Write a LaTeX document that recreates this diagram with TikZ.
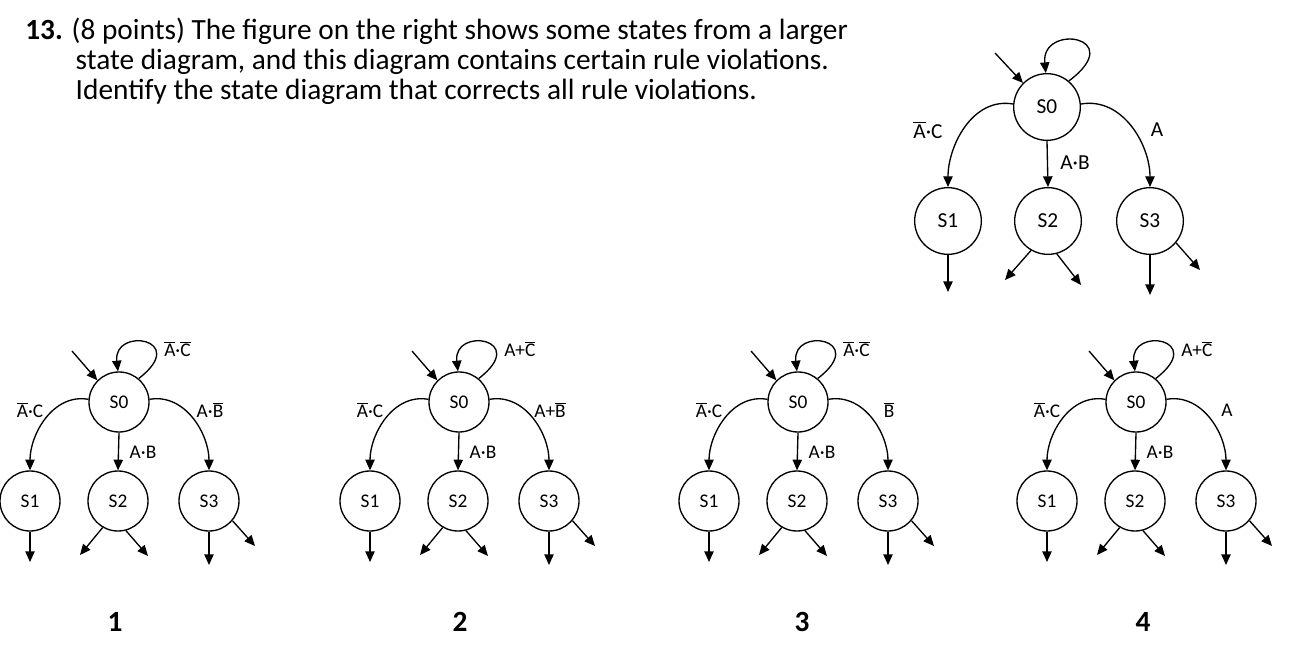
\documentclass[tikz,border=0pt]{standalone}
\usepackage{fontspec}
\setmainfont{Carlito}
\usetikzlibrary{arrows.meta}
\newcommand{\ov}[1]{$\overline{\mbox{#1}}$}
\begin{document}
\begin{tikzpicture}[x=0.75pt,y=-0.75pt,
  st/.style={draw,circle,line width=1pt,minimum size=45pt,inner sep=0pt,font=\fontsize{14.5}{14.5}\selectfont},
  bst/.style={draw,circle,line width=1pt,minimum size=50pt,inner sep=0pt,font=\fontsize{16}{16}\selectfont},
  ar/.style={line width=1pt,-{Triangle[length=8pt,width=7pt]}},
  lb/.style={font=\fontsize{14.5}{14.5}\selectfont,inner sep=0pt},
  blb/.style={font=\fontsize{16}{16}\selectfont,inner sep=0pt}]
\useasboundingbox (0,0) rectangle (1296,656);
\node[anchor=north west,align=left,inner sep=0pt,font=\fontsize{22}{22.5}\selectfont] (q) at (25,18)
 {\textbf{13.} (8 points) The figure on the right shows some states from a larger\\
 \hspace*{1.72em}state diagram, and this diagram contains certain rule violations.\\
 \hspace*{1.72em}Identify the state diagram that corrects all rule violations.};
% top diagram
\node[bst] (t0) at (1047,107) {S0};
\node[bst] (t1) at (948,221) {S1};
\node[bst] (t2) at (1048,221) {S2};
\node[bst] (t3) at (1150,221) {S3};
\coordinate (ti) at (995,53);
\draw[ar] (ti) -- (t0.135);
\draw[ar] (t0.50) .. controls +(60,-45) and +(-5,-50) .. (t0.92);
\draw[ar] (t0.175) to[out=170,in=90] (t1.north);
\draw[ar] (t0.south) -- (t2.north);
\draw[ar] (t0.5) to[out=10,in=90] (t3.north);
\node[blb] (tl1) at (928,130) {\ov{A}·C};
\node[blb] (tl2) at (1075,163) {A·B};
\node[blb] (tl3) at (1157,130) {A};
\coordinate (to1) at (948,292);
\coordinate (to2) at (1005,280);
\coordinate (to3) at (1081,285);
\coordinate (to4) at (1150,295);
\coordinate (to5) at (1200,270);
\draw[ar] (t1.south) -- (to1);
\draw[ar] (t2.240) -- (to2);
\draw[ar] (t2.285) -- (to3);
\draw[ar] (t3.south) -- (to4);
\draw[ar] (t3.320) -- (to5);
% small diagrams
\foreach \i/\dx/\ll/\sl/\nx in {1/0/{\ov{A}·\ov{C}}/{A·\ov{B}}/115, 2/340/{A+\ov{C}}/{A+\ov{B}}/120, 3/679/{\ov{A}·\ov{C}}/{\ov{B}}/123, 4/1017/{A+\ov{C}}/{A}/126}{
\begin{scope}[xshift=\dx*0.75pt]
\node[st] (s0\i) at (119,402) {S0};
\node[st] (s1\i) at (30,501) {S1};
\node[st] (s2\i) at (118,501) {S2};
\node[st] (s3\i) at (209,501) {S3};
\coordinate (in\i) at (72,351);
\draw[ar] (in\i) -- (s0\i.135);
\draw[ar] (s0\i.50) .. controls +(52,-40) and +(-5,-45) .. (s0\i.92);
\draw[ar] (s0\i.175) to[out=170,in=90] (s1\i.north);
\draw[ar] (s0\i.south) -- (s2\i.north);
\draw[ar] (s0\i.5) to[out=10,in=90] (s3\i.north);
\node[lb,anchor=west] (ll\i) at (164,349) {\ll};
\node[lb] (lc\i) at (30,410) {\ov{A}·C};
\node[lb] (ls\i) at (210,410) {\sl};
\node[lb] (lb\i) at (143,452) {A·B};
\node[font=\fontsize{22}{22}\selectfont\bfseries] (n\i) at (\nx,622) {\i};
\coordinate (o1\i) at (30,562);
\coordinate (o2\i) at (80,555);
\coordinate (o3\i) at (148,556);
\coordinate (o4\i) at (209,565);
\coordinate (o5\i) at (255,546);
\draw[ar] (s1\i.south) -- (o1\i);
\draw[ar] (s2\i.240) -- (o2\i);
\draw[ar] (s2\i.285) -- (o3\i);
\draw[ar] (s3\i.south) -- (o4\i);
\draw[ar] (s3\i.320) -- (o5\i);
\end{scope}}
\end{tikzpicture}
\end{document}
